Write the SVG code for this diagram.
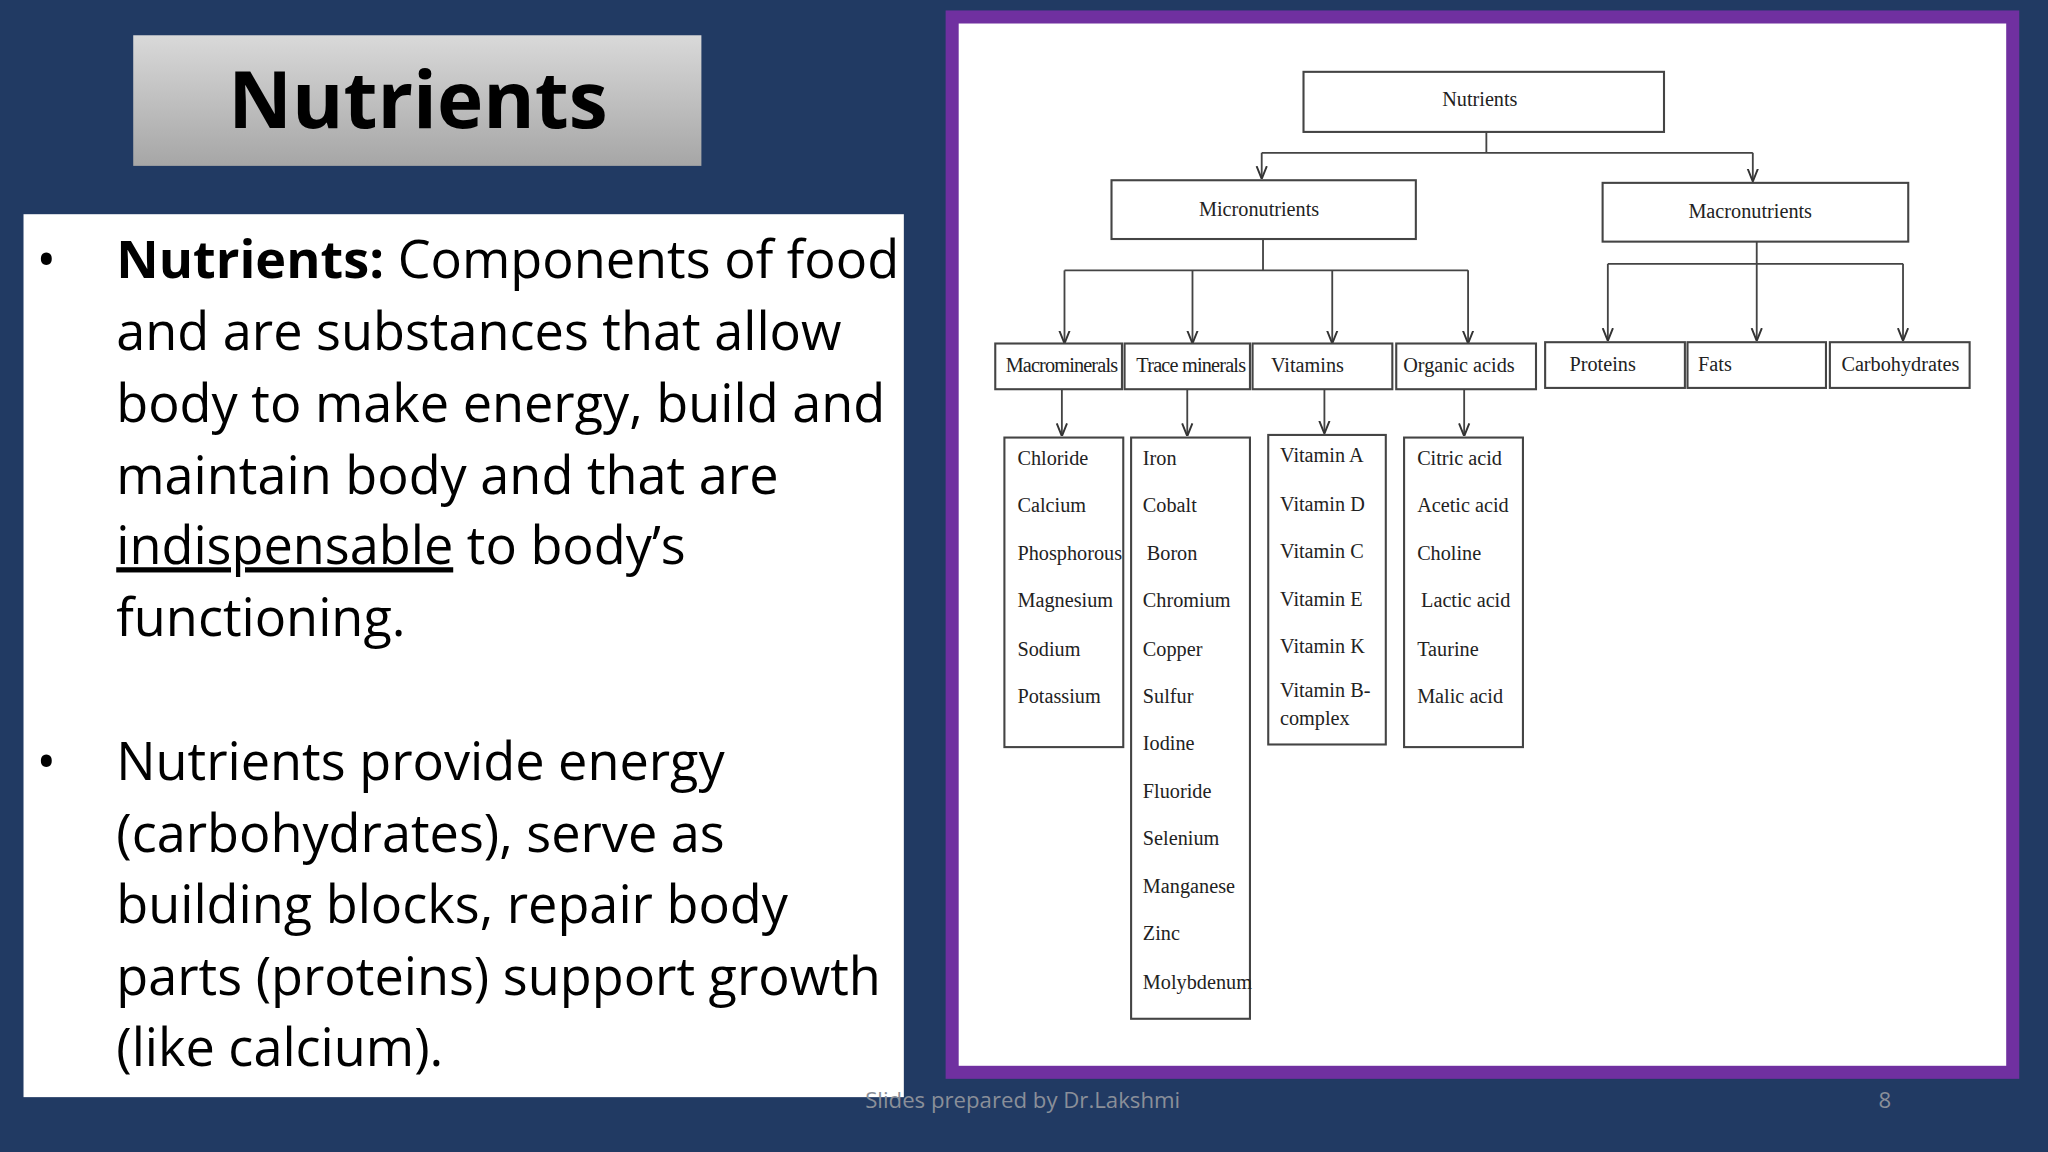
<svg xmlns="http://www.w3.org/2000/svg" width="2048" height="1152" viewBox="0 0 2048 1152">
<defs>
<linearGradient id="tg" x1="0" y1="0" x2="0" y2="1"><stop offset="0" stop-color="#d9d9d9"/><stop offset="1" stop-color="#a6a6a6"/></linearGradient>
<marker id="ar" viewBox="0 0 10 10" refX="9" refY="5" markerWidth="7" markerHeight="7" orient="auto"><path d="M0,1 L10,5 L0,9" fill="none" stroke="#333" stroke-width="1.5"/></marker>
<style>
.b{font-family:"Open Sans","Noto Sans",sans-serif;font-size:40px;fill:#000}
.d{font-family:"Liberation Serif",serif;font-size:15.5px;fill:#222}
.bx{fill:#fff;stroke:#444;stroke-width:1.6}
.ln{fill:none;stroke:#444;stroke-width:1.4}
.ar{fill:none;stroke:#444;stroke-width:1.4;marker-end:url(#ar)}
</style>
</defs>
<rect width="2048" height="1152" fill="#213a63"/>
<g transform="scale(1.30612)">
<g id="title"><rect x="102" y="27" width="435" height="100" fill="url(#tg)"/>
<text x="320" y="98" text-anchor="middle" font-family="Open Sans,Noto Sans,sans-serif" font-weight="bold" font-size="60">Nutrients</text></g>
<g id="textbox"><rect x="18" y="164" width="674" height="676" fill="#fff"/>
<text class="b" x="28" y="213">•</text>
<text class="b" x="89" y="213"><tspan font-weight="bold">Nutrients:</tspan> Components of food</text>
<text class="b" x="89" y="268">and are substances that allow</text>
<text class="b" x="89" y="323">body to make energy, build and</text>
<text class="b" x="89" y="378">maintain body and that are</text>
<text class="b" x="89" y="432"><tspan text-decoration="underline">indispensable</tspan> to body’s</text>
<text class="b" x="89" y="487">functioning.</text>
<text class="b" x="28" y="597">•</text>
<text class="b" x="89" y="597">Nutrients provide energy</text>
<text class="b" x="89" y="652">(carbohydrates), serve as</text>
<text class="b" x="89" y="707">building blocks, repair body</text>
<text class="b" x="89" y="762">parts (proteins) support growth</text>
<text class="b" x="89" y="816">(like calcium).</text></g>
<text x="783" y="848" text-anchor="middle" font-family="Open Sans,sans-serif" font-size="17" fill="#8a8f99">Slides prepared by Dr.Lakshmi</text>
<text x="1443" y="848" text-anchor="middle" font-family="Open Sans,sans-serif" font-size="17" fill="#8a8f99">8</text>
<rect x="729" y="13" width="812" height="808" fill="#fff" stroke="#7030a0" stroke-width="10"/>
<g id="connectors">
<path class="ln" d="M1138,101 V117 M966,117 H1342 M967,183 V207 M815,207 H1124 M1345,185 V202 M1231,202 H1457"/>
<path class="ar" d="M966,117 V136"/><path class="ar" d="M1342,117 V138"/>
<path class="ar" d="M815,207 V262"/><path class="ar" d="M913,207 V262"/><path class="ar" d="M1020,207 V262"/><path class="ar" d="M1124,207 V262"/>
<path class="ar" d="M1231,202 V260"/><path class="ar" d="M1345,202 V260"/><path class="ar" d="M1457,202 V260"/>
<path class="ar" d="M813,298 V333"/><path class="ar" d="M909,298 V333"/><path class="ar" d="M1014,298 V331"/><path class="ar" d="M1121,298 V333"/>
</g>
<g id="n-nutrients"><rect class="bx" x="998" y="55" width="276" height="46"/><text class="d" x="1133" y="81" text-anchor="middle">Nutrients</text></g>
<g id="n-micro"><rect class="bx" x="851" y="138" width="233" height="45"/><text class="d" x="964" y="165" text-anchor="middle">Micronutrients</text></g>
<g id="n-macro"><rect class="bx" x="1227" y="140" width="234" height="45"/><text class="d" x="1340" y="167" text-anchor="middle">Macronutrients</text></g>
<g id="n-macrominerals"><rect class="bx" x="762" y="263" width="97" height="35"/><text class="d" x="813" y="285" text-anchor="middle" textLength="86">Macrominerals</text></g>
<g id="n-trace"><rect class="bx" x="861" y="263" width="96" height="35"/><text class="d" x="912" y="285" text-anchor="middle" textLength="84">Trace minerals</text></g>
<g id="n-vitamins"><rect class="bx" x="959" y="263" width="107" height="35"/><text class="d" x="1001" y="285" text-anchor="middle">Vitamins</text></g>
<g id="n-organic"><rect class="bx" x="1069" y="263" width="107" height="35"/><text class="d" x="1117" y="285" text-anchor="middle">Organic acids</text></g>
<g id="n-proteins"><rect class="bx" x="1183" y="262" width="107" height="35"/><text class="d" x="1227" y="284" text-anchor="middle">Proteins</text></g>
<g id="n-fats"><rect class="bx" x="1292" y="262" width="106" height="35"/><text class="d" x="1313" y="284" text-anchor="middle">Fats</text></g>
<g id="n-carbs"><rect class="bx" x="1401" y="262" width="107" height="35"/><text class="d" x="1455" y="284" text-anchor="middle">Carbohydrates</text></g>
<g id="l-macrominerals"><rect class="bx" x="769" y="335" width="91" height="237"/>
<text class="d" x="779" y="356">Chloride</text><text class="d" x="779" y="392">Calcium</text><text class="d" x="779" y="429">Phosphorous</text><text class="d" x="779" y="465">Magnesium</text><text class="d" x="779" y="502">Sodium</text><text class="d" x="779" y="538">Potassium</text></g>
<g id="l-trace"><rect class="bx" x="866" y="335" width="91" height="445"/>
<text class="d" x="875" y="356">Iron</text><text class="d" x="875" y="392">Cobalt</text><text class="d" x="878" y="429">Boron</text><text class="d" x="875" y="465">Chromium</text><text class="d" x="875" y="502">Copper</text><text class="d" x="875" y="538">Sulfur</text><text class="d" x="875" y="574">Iodine</text><text class="d" x="875" y="611">Fluoride</text><text class="d" x="875" y="647">Selenium</text><text class="d" x="875" y="684">Manganese</text><text class="d" x="875" y="720">Zinc</text><text class="d" x="875" y="757">Molybdenum</text></g>
<g id="l-vitamins"><rect class="bx" x="971" y="333" width="90" height="237"/>
<text class="d" x="980" y="354">Vitamin A</text><text class="d" x="980" y="391">Vitamin D</text><text class="d" x="980" y="427">Vitamin C</text><text class="d" x="980" y="464">Vitamin E</text><text class="d" x="980" y="500">Vitamin K</text><text class="d" x="980" y="534">Vitamin B-</text><text class="d" x="980" y="555">complex</text></g>
<g id="l-organic"><rect class="bx" x="1075" y="335" width="91" height="237"/>
<text class="d" x="1085" y="356">Citric acid</text><text class="d" x="1085" y="392">Acetic acid</text><text class="d" x="1085" y="429">Choline</text><text class="d" x="1088" y="465">Lactic acid</text><text class="d" x="1085" y="502">Taurine</text><text class="d" x="1085" y="538">Malic acid</text></g>
</g>
</svg>
